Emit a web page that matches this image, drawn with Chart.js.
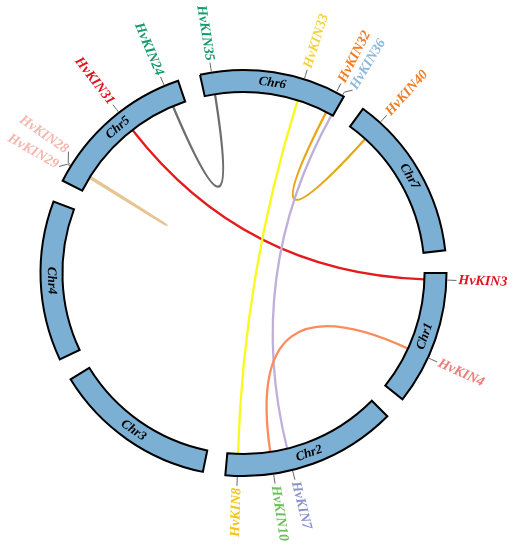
<!DOCTYPE html>
<html>
<head>
<meta charset="utf-8">
<title>HvKIN segmental duplications</title>
<script src="https://cdn.jsdelivr.net/npm/chart.js@4.4.0/dist/chart.umd.min.js"></script>
<style>
  html, body { margin: 0; padding: 0; background: #fff; }
  #wrap { width: 515px; height: 550px; }
</style>
</head>
<body>
<div id="wrap"><canvas id="circos" width="515" height="550"></canvas></div>
<script>
const chromosomes = ['Chr1', 'Chr2', 'Chr3', 'Chr4', 'Chr5', 'Chr6', 'Chr7'];
const chrLengths = [558, 729, 680, 664, 641, 609, 690];
const gapLength = 93;

// genes: name, chromosome, position on chromosome (Mb)
const geneNames = ['HvKIN3', 'HvKIN4', 'HvKIN7', 'HvKIN10', 'HvKIN8', 'HvKIN29', 'HvKIN28',
                   'HvKIN31', 'HvKIN24', 'HvKIN35', 'HvKIN33', 'HvKIN32', 'HvKIN36', 'HvKIN40'];
const geneChr = ['Chr1', 'Chr1', 'Chr2', 'Chr2', 'Chr2', 'Chr5', 'Chr5',
                 'Chr5', 'Chr5', 'Chr6', 'Chr6', 'Chr6', 'Chr6', 'Chr7'];
const genePos = [29, 358, 452, 531, 680, 68, 74, 365, 581, 48, 432, 574, 602, 90];

// duplicated gene pairs
const linkFrom = ['HvKIN31', 'HvKIN24', 'HvKIN28', 'HvKIN33', 'HvKIN32', 'HvKIN36', 'HvKIN4'];
const linkTo = ['HvKIN3', 'HvKIN35', 'HvKIN29', 'HvKIN8', 'HvKIN40', 'HvKIN7', 'HvKIN10'];

// styles
const chrFill = '#7bafd4';
const linkColors = ['#e41a1c', '#6e6e6e', '#e5c692', '#f9f91c', '#e8a51a', '#bfb0da', '#fb8c5c'];
const labelColors = {
    HvKIN3: '#e3101e', HvKIN4: '#f07b78', HvKIN7: '#8b93c9', HvKIN10: '#6cbf5b',
    HvKIN8: '#f2c511', HvKIN28: '#f5b7ae', HvKIN29: '#f5b7ae', HvKIN31: '#e3101e',
    HvKIN24: '#199a6a', HvKIN35: '#199a6a', HvKIN33: '#f6d33c', HvKIN32: '#f47b20',
    HvKIN36: '#8db8dd', HvKIN40: '#f47b20'
};
// label nudges (degrees) where ticks are crowded
const labelShift = { HvKIN28: 2.6, HvKIN29: -1.7, HvKIN36: 1.7 };

// ring: chromosome, gap, chromosome, gap ...
const ringData = [];
const ringFill = [];
const ringBorder = [];
const ringWidth = [];
chrLengths.forEach(len => {
    ringData.push(len, gapLength);
    ringFill.push(chrFill, 'rgba(0,0,0,0)');
    ringBorder.push('#000', 'rgba(0,0,0,0)');
    ringWidth.push(2, 0);
});

function chrArc(chart, c) {
    return chart.getDatasetMeta(0).data[c * 2];
}

function geneAngle(chart, name) {
    const i = geneNames.indexOf(name);
    const c = chromosomes.indexOf(geneChr[i]);
    const arc = chrArc(chart, c);
    return arc.startAngle + genePos[i] / chrLengths[c] * (arc.endAngle - arc.startAngle);
}

const circosPlugin = {
    id: 'circos',
    // links go under the chromosomes
    beforeDatasetsDraw(chart) {
        const ctx = chart.ctx;
        const arc0 = chrArc(chart, 0);
        const cx = arc0.x, cy = arc0.y, r = arc0.innerRadius;
        ctx.save();
        ctx.lineWidth = 2.3;
        ctx.lineCap = 'round';
        linkFrom.forEach((g, k) => {
            const a1 = geneAngle(chart, g);
            const a2 = geneAngle(chart, linkTo[k]);
            ctx.strokeStyle = linkColors[k];
            ctx.beginPath();
            ctx.moveTo(cx + r * Math.cos(a1), cy + r * Math.sin(a1));
            ctx.quadraticCurveTo(cx, cy, cx + r * Math.cos(a2), cy + r * Math.sin(a2));
            ctx.stroke();
        });
        ctx.restore();
    },
    afterDatasetsDraw(chart) {
        const ctx = chart.ctx;
        const arc0 = chrArc(chart, 0);
        const cx = arc0.x, cy = arc0.y;
        const R = arc0.outerRadius, rIn = arc0.innerRadius;
        ctx.save();

        // chromosome names along the ring
        ctx.font = 'italic bold 13px "Liberation Serif", "Times New Roman", serif';
        ctx.fillStyle = '#000';
        ctx.textAlign = 'center';
        ctx.textBaseline = 'middle';
        chromosomes.forEach((name, c) => {
            const arc = chrArc(chart, c);
            const mid = (arc.startAngle + arc.endAngle) / 2;
            const rm = (R + rIn) / 2;
            ctx.save();
            ctx.translate(cx + rm * Math.cos(mid), cy + rm * Math.sin(mid));
            ctx.rotate(Math.sin(mid) > 0 ? mid - Math.PI / 2 : mid + Math.PI / 2);
            ctx.fillText(name, 0, 0);
            ctx.restore();
        });

        // gene ticks and labels
        ctx.font = 'italic bold 14px "Liberation Serif", "Times New Roman", serif';
        geneNames.forEach(name => {
            const ag = geneAngle(chart, name);
            const al = ag + (labelShift[name] || 0) * Math.PI / 180;
            ctx.strokeStyle = '#666';
            ctx.lineWidth = 1;
            ctx.beginPath();
            ctx.moveTo(cx + (R + 1) * Math.cos(ag), cy + (R + 1) * Math.sin(ag));
            ctx.lineTo(cx + (R + 4) * Math.cos(ag), cy + (R + 4) * Math.sin(ag));
            ctx.lineTo(cx + (R + 10) * Math.cos(al), cy + (R + 10) * Math.sin(al));
            ctx.stroke();

            ctx.save();
            ctx.translate(cx, cy);
            ctx.fillStyle = labelColors[name];
            ctx.textBaseline = 'middle';
            if (Math.cos(al) >= 0) {
                ctx.rotate(al);
                ctx.textAlign = 'left';
                ctx.fillText(name, R + 12, 0);
            } else {
                ctx.rotate(al + Math.PI);
                ctx.textAlign = 'right';
                ctx.fillText(name, -(R + 12), 0);
            }
            ctx.restore();
        });
        ctx.restore();
    }
};

const ctx = document.getElementById('circos').getContext('2d');
const circosChart = new Chart(ctx, {
    type: 'doughnut',
    data: {
        labels: chromosomes.flatMap(c => [c, '']),
        datasets: [{
            data: ringData,
            backgroundColor: ringFill,
            borderColor: ringBorder,
            borderWidth: ringWidth,
            borderJoinStyle: 'miter',
            borderAlign: 'center'
        }]
    },
    options: {
        responsive: false,
        animation: false,
        rotation: 90,
        circumference: 360,
        radius: 203,
        cutout: '89.2%',
        layout: {
            padding: { left: 0, right: 28, top: 0, bottom: 4 }
        },
        plugins: {
            legend: { display: false },
            tooltip: { enabled: false }
        },
        events: []
    },
    plugins: [circosPlugin]
});
</script>
</body>
</html>
